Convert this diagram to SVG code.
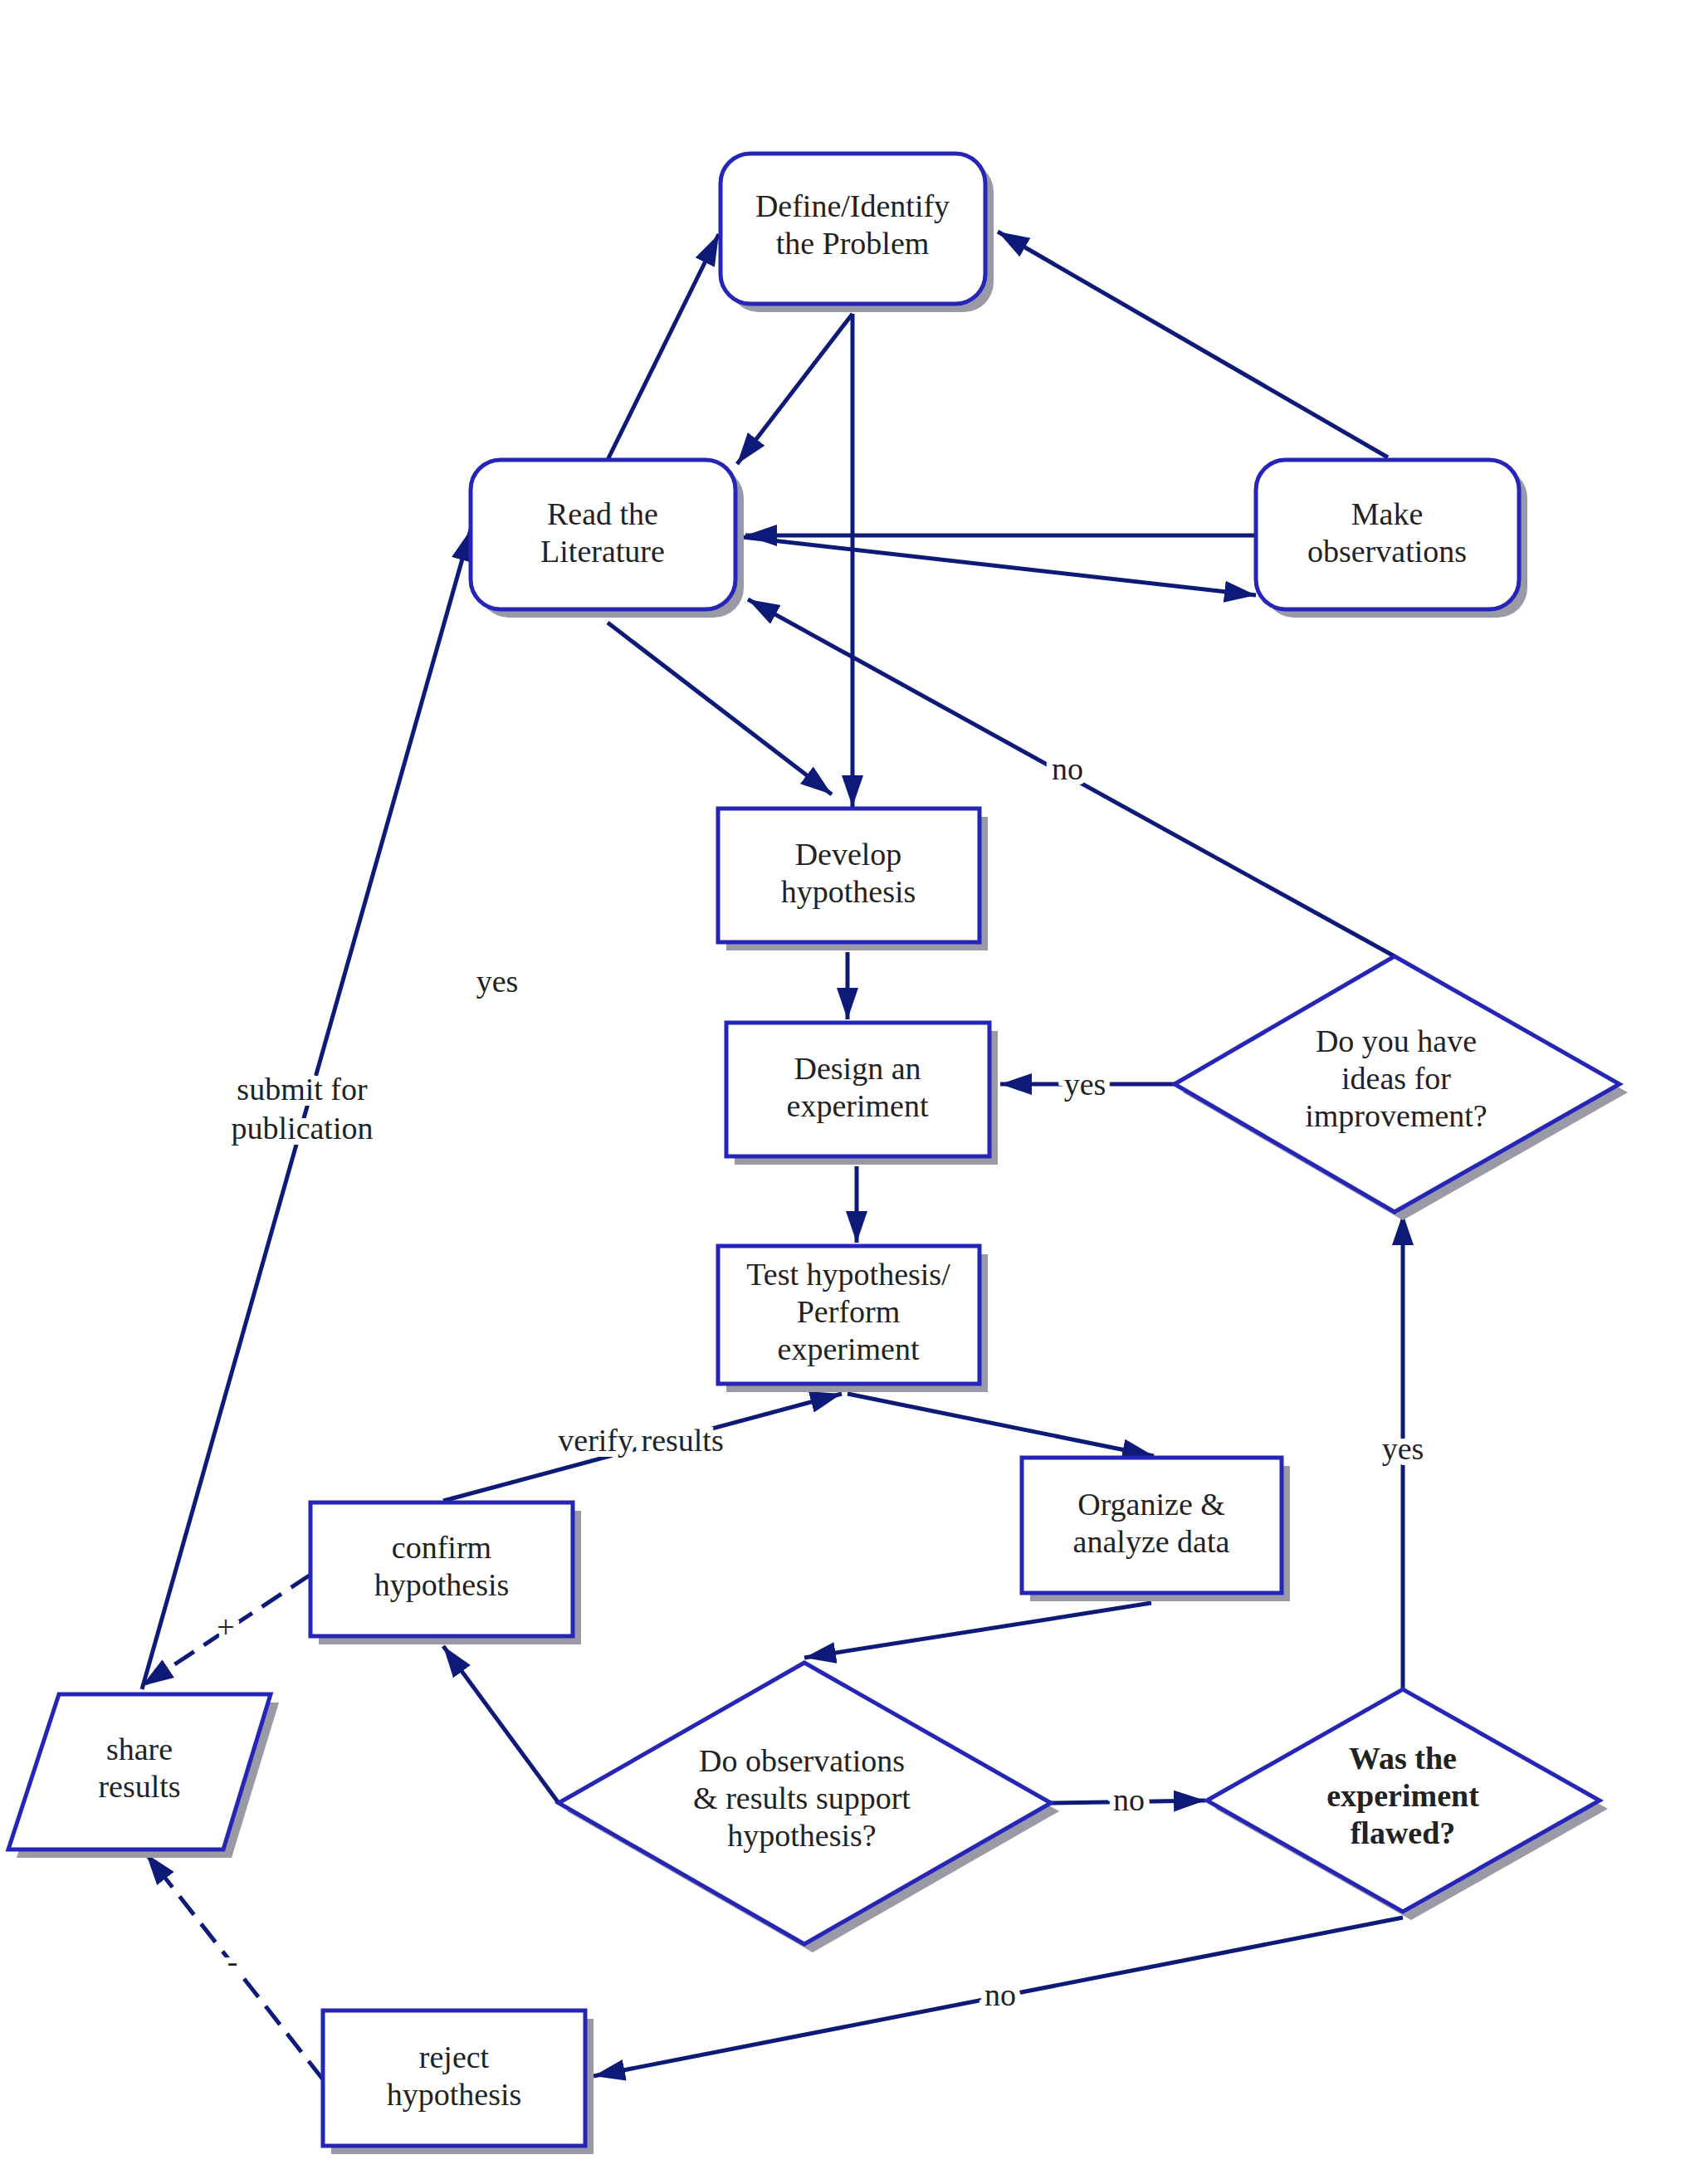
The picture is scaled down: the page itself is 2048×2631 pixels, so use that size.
<svg xmlns="http://www.w3.org/2000/svg" width="2048" height="2631" viewBox="0 0 2048 2631">
<style>
.n{fill:#fff;stroke:#2525b8;stroke-width:5}
.s{fill:#9a9aa6}
.t{font-family:"Liberation Serif",serif;font-size:38px;fill:#222;text-anchor:middle}
.b{font-weight:bold}
.e{stroke:#0d1a78;stroke-width:5;fill:none}
.d{stroke-dasharray:28 14}
.l{font-family:"Liberation Serif",serif;font-size:38px;fill:#222;text-anchor:middle;stroke:#fff;stroke-width:14;paint-order:stroke}
</style>
<defs>
<marker id="a" markerUnits="userSpaceOnUse" markerWidth="40" markerHeight="30" refX="38" refY="13" orient="auto"><path d="M0,0 L38,13 L0,26 Z" fill="#0d1a78"/></marker>
</defs>
<rect width="2048" height="2631" fill="#fff"/>
<g id="edges">
<line class="e" x1="732" y1="554" x2="866" y2="282" marker-end="url(#a)"/>
<line class="e" x1="1027" y1="378" x2="888" y2="559" marker-end="url(#a)"/>
<line class="e" x1="1672" y1="551" x2="1202" y2="279" marker-end="url(#a)"/>
<line class="e" x1="1513" y1="645" x2="898" y2="645" marker-end="url(#a)"/>
<line class="e" x1="886" y1="646" x2="1513" y2="717" marker-end="url(#a)"/>
<line class="e" x1="732" y1="750" x2="1002" y2="957" marker-end="url(#a)"/>
<line class="e" x1="1027" y1="378" x2="1027" y2="972" marker-end="url(#a)"/>
<line class="e" x1="1021" y1="1147" x2="1021" y2="1228" marker-end="url(#a)"/>
<line class="e" x1="1415" y1="1306" x2="1205" y2="1306" marker-end="url(#a)"/>
<line class="e" x1="1680" y1="1152" x2="901" y2="722" marker-end="url(#a)"/>
<line class="e" x1="1032" y1="1405" x2="1032" y2="1497" marker-end="url(#a)"/>
<line class="e" x1="1021" y1="1679" x2="1390" y2="1754" marker-end="url(#a)"/>
<line class="e" x1="1387" y1="1931" x2="969" y2="1997" marker-end="url(#a)"/>
<line class="e" x1="673" y1="2172" x2="534" y2="1983" marker-end="url(#a)"/>
<line class="e" x1="534" y1="1808" x2="1014" y2="1679" marker-end="url(#a)"/>
<line class="e" x1="1266" y1="2172" x2="1452" y2="2169" marker-end="url(#a)"/>
<line class="e" x1="1690" y1="2035" x2="1690" y2="1462" marker-end="url(#a)"/>
<line class="e" x1="1690" y1="2310" x2="715" y2="2501" marker-end="url(#a)"/>
<line class="e d" x1="374" y1="1897" x2="171" y2="2031" marker-end="url(#a)"/>
<line class="e d" x1="389" y1="2505" x2="176" y2="2233" marker-end="url(#a)"/>
<line class="e" x1="171" y1="2035" x2="567" y2="638" marker-end="url(#a)"/>
<text class="l" x="1307" y="1319">yes</text>
<text class="l" x="1286" y="939">no</text>
<text class="l" x="599" y="1195">yes</text>
<text class="l" x="772" y="1748">verify results</text>
<text class="l" x="1360" y="2181">no</text>
<text class="l" x="1690" y="1758">yes</text>
<text class="l" x="1205" y="2416">no</text>
<text class="l" x="272" y="1973">+</text>
<text class="l" x="280" y="2376">-</text>
<text class="l" x="364" y="1325">submit for</text>
<text class="l" x="364" y="1372">publication</text>
</g>
<g id="define"><rect class="s" x="878" y="195" width="319" height="181" rx="36"/><rect class="n" x="868" y="185" width="319" height="181" rx="36"/><text class="t" x="1027" y="261">Define/Identify</text><text class="t" x="1027" y="306">the Problem</text></g>
<g id="literature"><rect class="s" x="577" y="564" width="319" height="180" rx="36"/><rect class="n" x="567" y="554" width="319" height="180" rx="36"/><text class="t" x="726" y="632">Read the</text><text class="t" x="726" y="677">Literature</text></g>
<g id="observations"><rect class="s" x="1523" y="564" width="317" height="180" rx="36"/><rect class="n" x="1513" y="554" width="317" height="180" rx="36"/><text class="t" x="1671" y="632">Make</text><text class="t" x="1671" y="677">observations</text></g>
<g id="develop"><rect class="s" x="875" y="984" width="315" height="161"/><rect class="n" x="865" y="974" width="315" height="161"/><text class="t" x="1022" y="1042">Develop</text><text class="t" x="1022" y="1087">hypothesis</text></g>
<g id="design"><rect class="s" x="885" y="1242" width="317" height="161"/><rect class="n" x="875" y="1232" width="317" height="161"/><text class="t" x="1033" y="1300">Design an</text><text class="t" x="1033" y="1345">experiment</text></g>
<g id="test"><rect class="s" x="875" y="1511" width="315" height="166"/><rect class="n" x="865" y="1501" width="315" height="166"/><text class="t" x="1022" y="1548">Test hypothesis/</text><text class="t" x="1022" y="1593">Perform</text><text class="t" x="1022" y="1638">experiment</text></g>
<g id="organize"><rect class="s" x="1241" y="1766" width="313" height="163"/><rect class="n" x="1231" y="1756" width="313" height="163"/><text class="t" x="1387" y="1825">Organize &amp;</text><text class="t" x="1387" y="1870">analyze data</text></g>
<g id="confirm"><rect class="s" x="384" y="1820" width="316" height="161"/><rect class="n" x="374" y="1810" width="316" height="161"/><text class="t" x="532" y="1877">confirm</text><text class="t" x="532" y="1922">hypothesis</text></g>
<g id="share"><polygon class="s" points="81,2051 336,2051 279,2238 20,2238"/><polygon class="n" points="71,2041 326,2041 269,2228 10,2228"/><text class="t" x="168" y="2120">share</text><text class="t" x="168" y="2165">results</text></g>
<g id="reject"><rect class="s" x="399" y="2432" width="316" height="163"/><rect class="n" x="389" y="2422" width="316" height="163"/><text class="t" x="547" y="2491">reject</text><text class="t" x="547" y="2536">hypothesis</text></g>
<g id="ideas"><polygon class="s" points="1425,1316 1690,1162 1961,1316 1690,1470"/><polygon class="n" points="1415,1306 1680,1152 1951,1306 1680,1460"/><text class="t" x="1682" y="1267">Do you have</text><text class="t" x="1682" y="1312">ideas for</text><text class="t" x="1682" y="1357">improvement?</text></g>
<g id="support"><polygon class="s" points="683,2182 979,2013 1276,2182 979,2352"/><polygon class="n" points="673,2172 969,2003 1266,2172 969,2342"/><text class="t" x="966" y="2134">Do observations</text><text class="t" x="966" y="2179">&amp; results support</text><text class="t" x="966" y="2224">hypothesis?</text></g>
<g id="flawed"><polygon class="s" points="1464,2179 1700,2045 1937,2179 1700,2313"/><polygon class="n" points="1454,2169 1690,2035 1927,2169 1690,2303"/><text class="t b" x="1690" y="2131">Was the</text><text class="t b" x="1690" y="2176">experiment</text><text class="t b" x="1690" y="2221">flawed?</text></g>
</svg>
